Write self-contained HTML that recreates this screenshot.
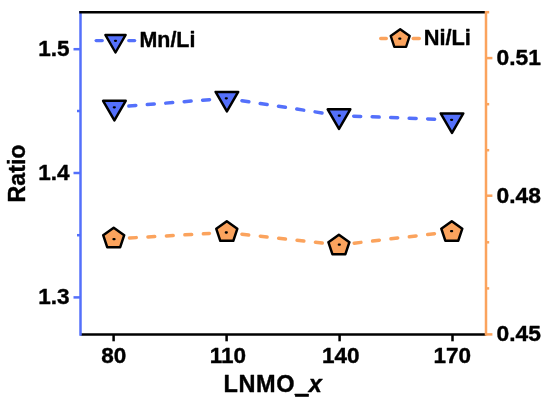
<!DOCTYPE html>
<html><head><meta charset="utf-8"><title>Ratio vs LNMO_x</title>
<style>html,body{margin:0;padding:0;background:#fff}svg{display:block}</style></head>
<body>
<svg width="550" height="402" viewBox="0 0 550 402">
<rect width="550" height="402" fill="#fff"/>
<g fill="none" stroke-width="2.5" stroke-linecap="butt">
<line x1="80.5" y1="334.4" x2="486" y2="334.4" stroke="#000"/>
<line x1="113.6" y1="334.4" x2="113.6" y2="341.3" stroke="#000"/>
<line x1="226.6" y1="334.4" x2="226.6" y2="341.3" stroke="#000"/>
<line x1="339.6" y1="334.4" x2="339.6" y2="341.3" stroke="#000"/>
<line x1="452.5" y1="334.4" x2="452.5" y2="341.3" stroke="#000"/>
<line x1="80.5" y1="11" x2="80.5" y2="335.65" stroke="#5470fb"/>
<line x1="73.5" y1="49.2" x2="80.5" y2="49.2" stroke="#5470fb"/>
<line x1="73.5" y1="173.0" x2="80.5" y2="173.0" stroke="#5470fb"/>
<line x1="73.5" y1="297.4" x2="80.5" y2="297.4" stroke="#5470fb"/>
<line x1="77" y1="111.0" x2="80.5" y2="111.0" stroke="#5470fb"/>
<line x1="77" y1="235.2" x2="80.5" y2="235.2" stroke="#5470fb"/>
<line x1="79.25" y1="12.2" x2="486" y2="12.2" stroke="#000"/>
<line x1="486" y1="11" x2="486" y2="335.65" stroke="#fba35d"/>
<line x1="486" y1="58.1" x2="492.4" y2="58.1" stroke="#fba35d"/>
<line x1="486" y1="195.7" x2="492.4" y2="195.7" stroke="#fba35d"/>
<line x1="486" y1="334.4" x2="492.4" y2="334.4" stroke="#fba35d"/>
<line x1="486" y1="12.2" x2="489.2" y2="12.2" stroke="#fba35d"/>
<line x1="486" y1="104.2" x2="489.2" y2="104.2" stroke="#fba35d"/>
<line x1="486" y1="150.2" x2="489.2" y2="150.2" stroke="#fba35d"/>
<line x1="486" y1="242.3" x2="489.2" y2="242.3" stroke="#fba35d"/>
<line x1="486" y1="288.4" x2="489.2" y2="288.4" stroke="#fba35d"/>
</g>
<line x1="128.85" y1="106.05" x2="209.55" y2="99.64" stroke="#5470fb" stroke-width="3.5" stroke-linecap="round" stroke-dasharray="7.0 11.5"/>
<line x1="241.92" y1="100.66" x2="322.50" y2="113.02" stroke="#5470fb" stroke-width="3.5" stroke-linecap="round" stroke-dasharray="7.0 11.5"/>
<line x1="353.69" y1="116.14" x2="435.61" y2="119.19" stroke="#5470fb" stroke-width="3.5" stroke-linecap="round" stroke-dasharray="7.0 11.5"/>
<line x1="129.47" y1="238.01" x2="209.43" y2="233.47" stroke="#fba35d" stroke-width="3.5" stroke-linecap="round" stroke-dasharray="6.8 11.7"/>
<line x1="241.91" y1="234.20" x2="322.40" y2="243.04" stroke="#fba35d" stroke-width="3.5" stroke-linecap="round" stroke-dasharray="6.8 11.7"/>
<line x1="354.20" y1="243.16" x2="435.12" y2="233.68" stroke="#fba35d" stroke-width="3.5" stroke-linecap="round" stroke-dasharray="6.8 11.7"/>
<g stroke-linecap="round" stroke-width="3.4">
<line x1="96.2" y1="40.6" x2="102.2" y2="40.6" stroke="#5470fb"/>
<line x1="128.8" y1="40.6" x2="134.6" y2="40.6" stroke="#5470fb"/>
<line x1="380.7" y1="38.5" x2="386.3" y2="38.5" stroke="#fba35d"/>
<line x1="413.2" y1="38.5" x2="419.3" y2="38.5" stroke="#fba35d"/>
</g>
<g stroke="#000" stroke-width="2.5" stroke-linejoin="round">
<path d="M103.10,100.78 L125.70,100.78 L114.40,120.35 Z" fill="#5470fb"/>
<path d="M215.60,91.88 L238.20,91.88 L226.90,111.45 Z" fill="#5470fb"/>
<path d="M327.70,109.28 L350.30,109.28 L339.00,128.85 Z" fill="#5470fb"/>
<path d="M440.70,113.38 L463.30,113.38 L452.00,132.95 Z" fill="#5470fb"/>
<path d="M113.70,227.73 L124.21,235.17 L120.20,247.22 L107.20,247.22 L103.19,235.17 Z" fill="#fba35d"/>
<path d="M226.80,221.33 L237.31,228.77 L233.30,240.82 L220.30,240.82 L216.29,228.77 Z" fill="#fba35d"/>
<path d="M338.90,234.73 L349.41,242.17 L345.40,254.22 L332.40,254.22 L328.39,242.17 Z" fill="#fba35d"/>
<path d="M451.80,221.23 L462.31,228.67 L458.30,240.72 L445.30,240.72 L441.29,228.67 Z" fill="#fba35d"/>
<path d="M105.35,34.94 L125.65,34.94 L115.50,52.52 Z" fill="#5470fb" stroke-width="2.4"/>
<path d="M400.20,29.25 L409.71,35.99 L406.08,46.89 L394.32,46.89 L390.69,35.99 Z" fill="#fba35d" stroke-width="2.4"/>
</g>
<g fill="#000">
<rect x="112.70" y="106.15" width="3.2" height="2.3" rx="1.1"/>
<rect x="224.70" y="97.15" width="3.2" height="2.3" rx="1.1"/>
<rect x="337.70" y="114.45" width="3.2" height="2.3" rx="1.1"/>
<rect x="450.00" y="118.65" width="3.2" height="2.3" rx="1.1"/>
<rect x="112.40" y="237.95" width="3.2" height="2.3" rx="1.1"/>
<rect x="224.70" y="231.35" width="3.2" height="2.3" rx="1.1"/>
<rect x="337.70" y="243.55" width="3.2" height="2.3" rx="1.1"/>
<rect x="450.00" y="229.95" width="3.2" height="2.3" rx="1.1"/>
<rect x="113.90" y="39.65" width="3.2" height="2.3" rx="1.1"/>
<rect x="398.20" y="37.45" width="3.2" height="2.3" rx="1.1"/>
</g>
<g font-family="'Liberation Sans', Arial, sans-serif" font-weight="bold" fill="#000" stroke="#000" stroke-width="0.4" stroke-linejoin="round">
<g font-size="22.5" text-anchor="end">
<text x="69.5" y="56.1">1.5</text>
<text x="69.5" y="179.9">1.4</text>
<text x="69.5" y="304.3">1.3</text>
</g>
<g font-size="22.8" text-anchor="start">
<text x="496.5" y="65.0">0.51</text>
<text x="496.5" y="202.5">0.48</text>
<text x="496.5" y="341.3">0.45</text>
</g>
<g font-size="22.5" text-anchor="middle">
<text x="113.8" y="362.5">80</text>
<text x="227.8" y="362.5">110</text>
<text x="340.8" y="362.5">140</text>
<text x="452.2" y="362.5">170</text>
</g>
<text x="139.5" y="46.8" font-size="21.4">Mn/Li</text>
<text x="423.7" y="44.8" font-size="21.8">Ni/Li</text>
<text x="273" y="392" font-size="23.5" letter-spacing="0.6" text-anchor="middle">LNMO_<tspan font-style="italic">x</tspan></text>
<text transform="translate(24.5,173.5) rotate(-90)" font-size="23.2" text-anchor="middle">Ratio</text>
</g>
<rect x="295.1" y="394.1" width="13.7" height="2.7" fill="#000"/>
</svg>
</body></html>
